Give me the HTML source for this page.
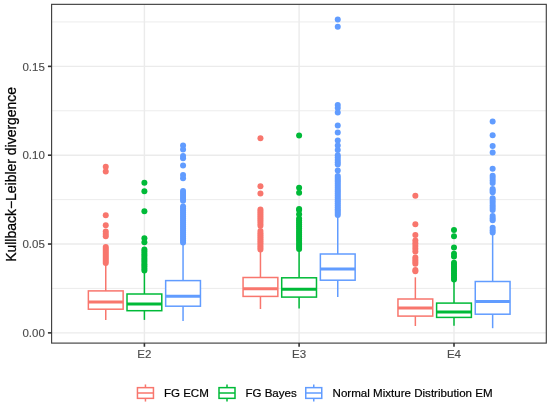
<!DOCTYPE html>
<html><head><meta charset="utf-8"><title>plot</title>
<style>html,body{margin:0;padding:0;background:#fff;width:550px;height:407px;overflow:hidden}</style></head>
<body>
<svg width="550" height="407" viewBox="0 0 550 407" style="display:block;position:absolute;left:0;top:0" font-family="'Liberation Sans', Arial, Helvetica, sans-serif">
<rect width="550" height="407" fill="#fff"/>
<line x1="51.6" x2="546.3" y1="288.45" y2="288.45" stroke="#EBEBEB" stroke-width="0.95"/>
<line x1="51.6" x2="546.3" y1="199.62" y2="199.62" stroke="#EBEBEB" stroke-width="0.95"/>
<line x1="51.6" x2="546.3" y1="110.78" y2="110.78" stroke="#EBEBEB" stroke-width="0.95"/>
<line x1="51.6" x2="546.3" y1="21.95" y2="21.95" stroke="#EBEBEB" stroke-width="0.95"/>
<line x1="51.6" x2="546.3" y1="332.87" y2="332.87" stroke="#EBEBEB" stroke-width="1.42"/>
<line x1="51.6" x2="546.3" y1="244.03" y2="244.03" stroke="#EBEBEB" stroke-width="1.42"/>
<line x1="51.6" x2="546.3" y1="155.20" y2="155.20" stroke="#EBEBEB" stroke-width="1.42"/>
<line x1="51.6" x2="546.3" y1="66.37" y2="66.37" stroke="#EBEBEB" stroke-width="1.42"/>
<line x1="144.40" x2="144.40" y1="4.35" y2="343.1" stroke="#EBEBEB" stroke-width="1.42"/>
<line x1="299.10" x2="299.10" y1="4.35" y2="343.1" stroke="#EBEBEB" stroke-width="1.42"/>
<line x1="454.00" x2="454.00" y1="4.35" y2="343.1" stroke="#EBEBEB" stroke-width="1.42"/>
<g fill="#F8766D" stroke="none"><circle cx="105.75" cy="166.80" r="3.0"/><circle cx="105.75" cy="171.60" r="3.0"/><circle cx="105.75" cy="215.20" r="3.0"/><circle cx="105.75" cy="225.20" r="3.0"/><circle cx="105.75" cy="231.60" r="3.0"/><circle cx="105.75" cy="234.00" r="3.0"/><circle cx="105.75" cy="236.30" r="3.0"/><circle cx="105.75" cy="247.00" r="3.0"/><circle cx="105.75" cy="249.00" r="3.0"/><circle cx="105.75" cy="251.00" r="3.0"/><circle cx="105.75" cy="253.00" r="3.0"/><circle cx="105.75" cy="255.00" r="3.0"/><circle cx="105.75" cy="257.00" r="3.0"/><circle cx="105.75" cy="259.00" r="3.0"/><circle cx="105.75" cy="261.00" r="3.0"/><circle cx="105.75" cy="263.00" r="3.0"/></g>
<g stroke="#F8766D" stroke-width="1.5" fill="none">
<line x1="105.75" x2="105.75" y1="264.00" y2="290.90"/>
<line x1="105.75" x2="105.75" y1="309.20" y2="320.00"/>
<rect x="88.36" y="290.90" width="34.78" height="18.30" fill="#fff" stroke-linejoin="miter"/>
<line x1="88.36" x2="123.14" y1="302.00" y2="302.00" stroke-width="3.0"/>
</g>
<g fill="#00BA38" stroke="none"><circle cx="144.40" cy="182.80" r="3.0"/><circle cx="144.40" cy="191.20" r="3.0"/><circle cx="144.40" cy="211.20" r="3.0"/><circle cx="144.40" cy="238.30" r="3.0"/><circle cx="144.40" cy="242.30" r="3.0"/><circle cx="144.40" cy="249.50" r="3.0"/><circle cx="144.40" cy="251.60" r="3.0"/><circle cx="144.40" cy="253.70" r="3.0"/><circle cx="144.40" cy="255.80" r="3.0"/><circle cx="144.40" cy="257.90" r="3.0"/><circle cx="144.40" cy="260.00" r="3.0"/><circle cx="144.40" cy="262.10" r="3.0"/><circle cx="144.40" cy="264.20" r="3.0"/><circle cx="144.40" cy="266.30" r="3.0"/><circle cx="144.40" cy="268.40" r="3.0"/><circle cx="144.40" cy="270.50" r="3.0"/></g>
<g stroke="#00BA38" stroke-width="1.5" fill="none">
<line x1="144.40" x2="144.40" y1="271.00" y2="294.00"/>
<line x1="144.40" x2="144.40" y1="310.70" y2="319.90"/>
<rect x="127.01" y="294.00" width="34.78" height="16.70" fill="#fff" stroke-linejoin="miter"/>
<line x1="127.01" x2="161.79" y1="303.90" y2="303.90" stroke-width="3.0"/>
</g>
<g fill="#619CFF" stroke="none"><circle cx="183.05" cy="145.60" r="3.0"/><circle cx="183.05" cy="149.40" r="3.0"/><circle cx="183.05" cy="156.00" r="3.0"/><circle cx="183.05" cy="158.20" r="3.0"/><circle cx="183.05" cy="165.40" r="3.0"/><circle cx="183.05" cy="175.00" r="3.0"/><circle cx="183.05" cy="178.30" r="3.0"/><circle cx="183.05" cy="191.00" r="3.0"/><circle cx="183.05" cy="192.96" r="3.0"/><circle cx="183.05" cy="194.92" r="3.0"/><circle cx="183.05" cy="196.88" r="3.0"/><circle cx="183.05" cy="198.84" r="3.0"/><circle cx="183.05" cy="200.80" r="3.0"/><circle cx="183.05" cy="206.40" r="3.0"/><circle cx="183.05" cy="208.41" r="3.0"/><circle cx="183.05" cy="210.42" r="3.0"/><circle cx="183.05" cy="212.43" r="3.0"/><circle cx="183.05" cy="214.44" r="3.0"/><circle cx="183.05" cy="216.46" r="3.0"/><circle cx="183.05" cy="218.47" r="3.0"/><circle cx="183.05" cy="220.48" r="3.0"/><circle cx="183.05" cy="222.49" r="3.0"/><circle cx="183.05" cy="224.50" r="3.0"/><circle cx="183.05" cy="226.51" r="3.0"/><circle cx="183.05" cy="228.52" r="3.0"/><circle cx="183.05" cy="230.53" r="3.0"/><circle cx="183.05" cy="232.54" r="3.0"/><circle cx="183.05" cy="234.56" r="3.0"/><circle cx="183.05" cy="236.57" r="3.0"/><circle cx="183.05" cy="238.58" r="3.0"/><circle cx="183.05" cy="240.59" r="3.0"/><circle cx="183.05" cy="242.60" r="3.0"/></g>
<g stroke="#619CFF" stroke-width="1.5" fill="none">
<line x1="183.05" x2="183.05" y1="244.00" y2="280.60"/>
<line x1="183.05" x2="183.05" y1="306.20" y2="321.00"/>
<rect x="165.66" y="280.60" width="34.78" height="25.60" fill="#fff" stroke-linejoin="miter"/>
<line x1="165.66" x2="200.44" y1="296.30" y2="296.30" stroke-width="3.0"/>
</g>
<g fill="#F8766D" stroke="none"><circle cx="260.45" cy="138.20" r="3.0"/><circle cx="260.45" cy="186.20" r="3.0"/><circle cx="260.45" cy="193.60" r="3.0"/><circle cx="260.45" cy="209.40" r="3.0"/><circle cx="260.45" cy="211.44" r="3.0"/><circle cx="260.45" cy="213.47" r="3.0"/><circle cx="260.45" cy="215.51" r="3.0"/><circle cx="260.45" cy="217.55" r="3.0"/><circle cx="260.45" cy="219.59" r="3.0"/><circle cx="260.45" cy="221.62" r="3.0"/><circle cx="260.45" cy="223.66" r="3.0"/><circle cx="260.45" cy="225.70" r="3.0"/><circle cx="260.45" cy="231.10" r="3.0"/><circle cx="260.45" cy="233.14" r="3.0"/><circle cx="260.45" cy="235.19" r="3.0"/><circle cx="260.45" cy="237.23" r="3.0"/><circle cx="260.45" cy="239.28" r="3.0"/><circle cx="260.45" cy="241.32" r="3.0"/><circle cx="260.45" cy="243.37" r="3.0"/><circle cx="260.45" cy="245.41" r="3.0"/><circle cx="260.45" cy="247.46" r="3.0"/><circle cx="260.45" cy="249.50" r="3.0"/></g>
<g stroke="#F8766D" stroke-width="1.5" fill="none">
<line x1="260.45" x2="260.45" y1="251.00" y2="277.50"/>
<line x1="260.45" x2="260.45" y1="296.40" y2="309.00"/>
<rect x="243.06" y="277.50" width="34.78" height="18.90" fill="#fff" stroke-linejoin="miter"/>
<line x1="243.06" x2="277.84" y1="288.80" y2="288.80" stroke-width="3.0"/>
</g>
<g fill="#00BA38" stroke="none"><circle cx="299.10" cy="135.40" r="3.0"/><circle cx="299.10" cy="187.80" r="3.0"/><circle cx="299.10" cy="192.80" r="3.0"/><circle cx="299.10" cy="209.00" r="3.0"/><circle cx="299.10" cy="210.00" r="3.0"/><circle cx="299.10" cy="214.20" r="3.0"/><circle cx="299.10" cy="218.40" r="3.0"/><circle cx="299.10" cy="220.44" r="3.0"/><circle cx="299.10" cy="222.48" r="3.0"/><circle cx="299.10" cy="224.52" r="3.0"/><circle cx="299.10" cy="226.56" r="3.0"/><circle cx="299.10" cy="228.60" r="3.0"/><circle cx="299.10" cy="230.64" r="3.0"/><circle cx="299.10" cy="232.68" r="3.0"/><circle cx="299.10" cy="234.72" r="3.0"/><circle cx="299.10" cy="236.76" r="3.0"/><circle cx="299.10" cy="238.80" r="3.0"/><circle cx="299.10" cy="240.84" r="3.0"/><circle cx="299.10" cy="242.88" r="3.0"/><circle cx="299.10" cy="244.92" r="3.0"/><circle cx="299.10" cy="246.96" r="3.0"/><circle cx="299.10" cy="249.00" r="3.0"/></g>
<g stroke="#00BA38" stroke-width="1.5" fill="none">
<line x1="299.10" x2="299.10" y1="251.00" y2="277.80"/>
<line x1="299.10" x2="299.10" y1="297.10" y2="308.60"/>
<rect x="281.71" y="277.80" width="34.78" height="19.30" fill="#fff" stroke-linejoin="miter"/>
<line x1="281.71" x2="316.49" y1="289.30" y2="289.30" stroke-width="3.0"/>
</g>
<g fill="#619CFF" stroke="none"><circle cx="337.75" cy="19.40" r="3.0"/><circle cx="337.75" cy="26.80" r="3.0"/><circle cx="337.75" cy="105.00" r="3.0"/><circle cx="337.75" cy="108.00" r="3.0"/><circle cx="337.75" cy="112.40" r="3.0"/><circle cx="337.75" cy="125.40" r="3.0"/><circle cx="337.75" cy="132.60" r="3.0"/><circle cx="337.75" cy="140.40" r="3.0"/><circle cx="337.75" cy="145.40" r="3.0"/><circle cx="337.75" cy="150.00" r="3.0"/><circle cx="337.75" cy="155.30" r="3.0"/><circle cx="337.75" cy="157.62" r="3.0"/><circle cx="337.75" cy="159.95" r="3.0"/><circle cx="337.75" cy="162.28" r="3.0"/><circle cx="337.75" cy="164.60" r="3.0"/><circle cx="337.75" cy="170.50" r="3.0"/><circle cx="337.75" cy="176.00" r="3.0"/><circle cx="337.75" cy="177.95" r="3.0"/><circle cx="337.75" cy="179.90" r="3.0"/><circle cx="337.75" cy="181.85" r="3.0"/><circle cx="337.75" cy="183.80" r="3.0"/><circle cx="337.75" cy="185.75" r="3.0"/><circle cx="337.75" cy="187.70" r="3.0"/><circle cx="337.75" cy="189.65" r="3.0"/><circle cx="337.75" cy="191.60" r="3.0"/><circle cx="337.75" cy="193.55" r="3.0"/><circle cx="337.75" cy="195.50" r="3.0"/><circle cx="337.75" cy="197.45" r="3.0"/><circle cx="337.75" cy="199.40" r="3.0"/><circle cx="337.75" cy="201.35" r="3.0"/><circle cx="337.75" cy="203.30" r="3.0"/><circle cx="337.75" cy="205.25" r="3.0"/><circle cx="337.75" cy="207.20" r="3.0"/><circle cx="337.75" cy="209.15" r="3.0"/><circle cx="337.75" cy="211.10" r="3.0"/><circle cx="337.75" cy="213.05" r="3.0"/><circle cx="337.75" cy="215.00" r="3.0"/></g>
<g stroke="#619CFF" stroke-width="1.5" fill="none">
<line x1="337.75" x2="337.75" y1="216.00" y2="254.00"/>
<line x1="337.75" x2="337.75" y1="280.20" y2="297.10"/>
<rect x="320.36" y="254.00" width="34.78" height="26.20" fill="#fff" stroke-linejoin="miter"/>
<line x1="320.36" x2="355.14" y1="269.00" y2="269.00" stroke-width="3.0"/>
</g>
<g fill="#F8766D" stroke="none"><circle cx="415.35" cy="195.80" r="3.0"/><circle cx="415.35" cy="224.20" r="3.0"/><circle cx="415.35" cy="234.90" r="3.0"/><circle cx="415.35" cy="240.60" r="3.0"/><circle cx="415.35" cy="243.30" r="3.0"/><circle cx="415.35" cy="246.00" r="3.0"/><circle cx="415.35" cy="248.70" r="3.0"/><circle cx="415.35" cy="251.40" r="3.0"/><circle cx="415.35" cy="257.60" r="3.0"/><circle cx="415.35" cy="259.67" r="3.0"/><circle cx="415.35" cy="261.73" r="3.0"/><circle cx="415.35" cy="263.80" r="3.0"/><circle cx="415.35" cy="270.00" r="3.0"/><circle cx="415.35" cy="271.20" r="3.0"/></g>
<g stroke="#F8766D" stroke-width="1.5" fill="none">
<line x1="415.35" x2="415.35" y1="277.30" y2="299.00"/>
<line x1="415.35" x2="415.35" y1="316.10" y2="326.00"/>
<rect x="397.96" y="299.00" width="34.78" height="17.10" fill="#fff" stroke-linejoin="miter"/>
<line x1="397.96" x2="432.74" y1="308.00" y2="308.00" stroke-width="3.0"/>
</g>
<g fill="#00BA38" stroke="none"><circle cx="454.00" cy="230.10" r="3.0"/><circle cx="454.00" cy="236.30" r="3.0"/><circle cx="454.00" cy="247.60" r="3.0"/><circle cx="454.00" cy="253.80" r="3.0"/><circle cx="454.00" cy="256.60" r="3.0"/><circle cx="454.00" cy="262.70" r="3.0"/><circle cx="454.00" cy="264.80" r="3.0"/><circle cx="454.00" cy="266.90" r="3.0"/><circle cx="454.00" cy="269.00" r="3.0"/><circle cx="454.00" cy="271.10" r="3.0"/><circle cx="454.00" cy="273.20" r="3.0"/><circle cx="454.00" cy="275.30" r="3.0"/><circle cx="454.00" cy="277.40" r="3.0"/><circle cx="454.00" cy="279.50" r="3.0"/></g>
<g stroke="#00BA38" stroke-width="1.5" fill="none">
<line x1="454.00" x2="454.00" y1="280.00" y2="303.10"/>
<line x1="454.00" x2="454.00" y1="317.40" y2="325.70"/>
<rect x="436.61" y="303.10" width="34.78" height="14.30" fill="#fff" stroke-linejoin="miter"/>
<line x1="436.61" x2="471.39" y1="311.90" y2="311.90" stroke-width="3.0"/>
</g>
<g fill="#619CFF" stroke="none"><circle cx="492.65" cy="121.40" r="3.0"/><circle cx="492.65" cy="135.20" r="3.0"/><circle cx="492.65" cy="146.00" r="3.0"/><circle cx="492.65" cy="152.40" r="3.0"/><circle cx="492.65" cy="168.70" r="3.0"/><circle cx="492.65" cy="175.70" r="3.0"/><circle cx="492.65" cy="178.10" r="3.0"/><circle cx="492.65" cy="180.50" r="3.0"/><circle cx="492.65" cy="182.90" r="3.0"/><circle cx="492.65" cy="188.90" r="3.0"/><circle cx="492.65" cy="190.60" r="3.0"/><circle cx="492.65" cy="192.30" r="3.0"/><circle cx="492.65" cy="198.30" r="3.0"/><circle cx="492.65" cy="200.66" r="3.0"/><circle cx="492.65" cy="203.02" r="3.0"/><circle cx="492.65" cy="205.38" r="3.0"/><circle cx="492.65" cy="207.74" r="3.0"/><circle cx="492.65" cy="210.10" r="3.0"/><circle cx="492.65" cy="216.10" r="3.0"/><circle cx="492.65" cy="218.20" r="3.0"/><circle cx="492.65" cy="220.30" r="3.0"/><circle cx="492.65" cy="227.70" r="3.0"/><circle cx="492.65" cy="230.15" r="3.0"/><circle cx="492.65" cy="232.60" r="3.0"/></g>
<g stroke="#619CFF" stroke-width="1.5" fill="none">
<line x1="492.65" x2="492.65" y1="234.00" y2="281.50"/>
<line x1="492.65" x2="492.65" y1="314.20" y2="328.20"/>
<rect x="475.26" y="281.50" width="34.78" height="32.70" fill="#fff" stroke-linejoin="miter"/>
<line x1="475.26" x2="510.04" y1="301.50" y2="301.50" stroke-width="3.0"/>
</g>
<rect x="51.6" y="4.35" width="494.69999999999993" height="338.75" fill="none" stroke="#404040" stroke-width="1.15"/>
<line x1="47.93" x2="51.6" y1="332.87" y2="332.87" stroke="#333333" stroke-width="1.6"/>
<text x="44.8" y="337.02" font-size="11.5" fill="#4D4D4D" stroke="#4D4D4D" stroke-width="0.15" text-anchor="end">0.00</text>
<line x1="47.93" x2="51.6" y1="244.03" y2="244.03" stroke="#333333" stroke-width="1.6"/>
<text x="44.8" y="248.19" font-size="11.5" fill="#4D4D4D" stroke="#4D4D4D" stroke-width="0.15" text-anchor="end">0.05</text>
<line x1="47.93" x2="51.6" y1="155.20" y2="155.20" stroke="#333333" stroke-width="1.6"/>
<text x="44.8" y="159.35" font-size="11.5" fill="#4D4D4D" stroke="#4D4D4D" stroke-width="0.15" text-anchor="end">0.10</text>
<line x1="47.93" x2="51.6" y1="66.37" y2="66.37" stroke="#333333" stroke-width="1.6"/>
<text x="44.8" y="70.52" font-size="11.5" fill="#4D4D4D" stroke="#4D4D4D" stroke-width="0.15" text-anchor="end">0.15</text>
<line x1="144.40" x2="144.40" y1="343.1" y2="346.77" stroke="#333333" stroke-width="1.6"/>
<text x="144.40" y="358.2" font-size="11.5" fill="#4D4D4D" stroke="#4D4D4D" stroke-width="0.15" text-anchor="middle">E2</text>
<line x1="299.10" x2="299.10" y1="343.1" y2="346.77" stroke="#333333" stroke-width="1.6"/>
<text x="299.10" y="358.2" font-size="11.5" fill="#4D4D4D" stroke="#4D4D4D" stroke-width="0.15" text-anchor="middle">E3</text>
<line x1="454.00" x2="454.00" y1="343.1" y2="346.77" stroke="#333333" stroke-width="1.6"/>
<text x="454.00" y="358.2" font-size="11.5" fill="#4D4D4D" stroke="#4D4D4D" stroke-width="0.15" text-anchor="middle">E4</text>
<text transform="translate(15.7,174.35) rotate(-90)" font-size="13.96" fill="#000" stroke="#000" stroke-width="0.25" text-anchor="middle">Kullback−Leibler divergence</text>
<g stroke="#F8766D" stroke-width="1.5" fill="none">
<line x1="145.45" x2="145.45" y1="384.45" y2="401.55"/>
<rect x="137.45" y="387.65" width="16.0" height="10.7" fill="#fff"/>
<line x1="137.45" x2="153.45" y1="393.0" y2="393.0"/>
</g>
<text x="163.90" y="396.9" font-size="11.57" fill="#000" stroke="#000" stroke-width="0.2">FG ECM</text>
<g stroke="#00BA38" stroke-width="1.5" fill="none">
<line x1="227.0" x2="227.0" y1="384.45" y2="401.55"/>
<rect x="219.00" y="387.65" width="16.0" height="10.7" fill="#fff"/>
<line x1="219.00" x2="235.00" y1="393.0" y2="393.0"/>
</g>
<text x="245.40" y="396.9" font-size="11.57" fill="#000" stroke="#000" stroke-width="0.2">FG Bayes</text>
<g stroke="#619CFF" stroke-width="1.5" fill="none">
<line x1="313.75" x2="313.75" y1="384.45" y2="401.55"/>
<rect x="305.75" y="387.65" width="16.0" height="10.7" fill="#fff"/>
<line x1="305.75" x2="321.75" y1="393.0" y2="393.0"/>
</g>
<text x="332.60" y="396.9" font-size="11.57" fill="#000" stroke="#000" stroke-width="0.2">Normal Mixture Distribution EM</text>
</svg>
</body></html>
